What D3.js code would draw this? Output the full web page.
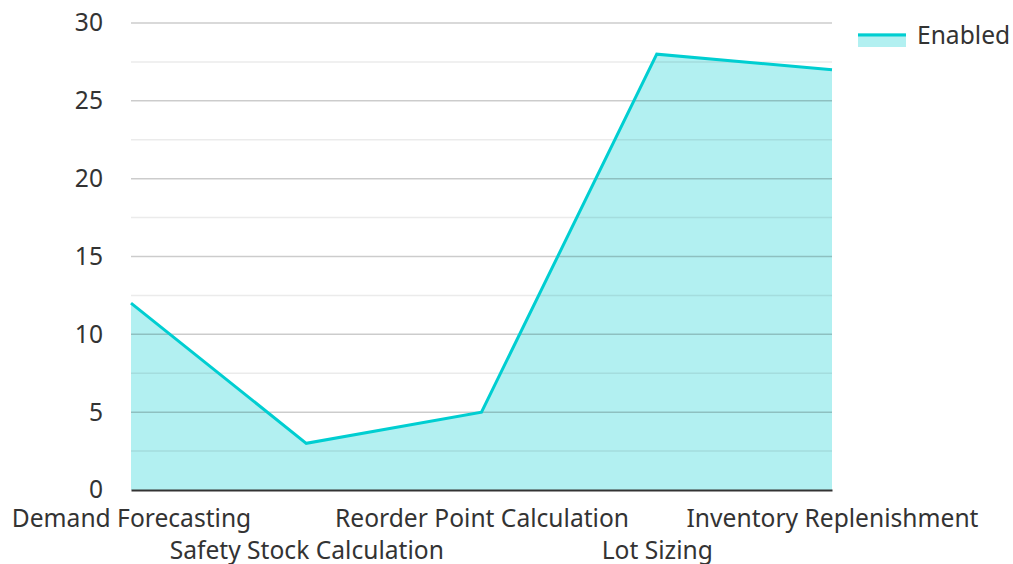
<!DOCTYPE html>
<html>
<head>
<meta charset="utf-8">
<script src="https://cdn.jsdelivr.net/npm/d3@7"></script>
<style>
  body { margin: 0; background: #fff; }
  text { font-family: "Noto Sans", sans-serif; fill: #333; }
</style>
</head>
<body>
<div id="chart"></div>
<script>
(function () {

  // data
  var categories = ["Demand Forecasting", "Safety Stock Calculation", "Reorder Point Calculation", "Lot Sizing", "Inventory Replenishment"]
  var enabled = [12, 3, 5, 28, 27]
  var yTicks = [0, 5, 10, 15, 20, 25, 30]
  var minorTicks = [2.5, 7.5, 12.5, 17.5, 22.5, 27.5]
  var seriesName = "Enabled"

  var color = "#00CED1"
  var fontSize = "24.6px"

  var margin = { top: 23, right: 181, bottom: 74, left: 131 }
  var width = 1013 - margin.left - margin.right,
    height = 564 - margin.top - margin.bottom

  var svg = d3.select("#chart").append("svg")
    .attr("width", 1013)
    .attr("height", 564)

  var g = svg.append("g")
    .attr("transform", "translate(" + margin.left + "," + margin.top + ")")

  var xPositionScale = d3.scalePoint().domain(categories).range([0, width])
  var yPositionScale = d3.scaleLinear().domain([0, 30]).range([height, 0])

  var points = categories.map(function (c, i) { return { cat: c, value: enabled[i] } })

  // area
  var area = d3.area()
    .x(function (d) { return xPositionScale(d.cat) })
    .y0(height)
    .y1(function (d) { return yPositionScale(d.value) })

  g.append("path")
    .datum(points)
    .attr("d", area)
    .attr("fill", color)
    .attr("fill-opacity", 0.3)

  // grid on top of the fill
  g.selectAll(".minor")
    .data(minorTicks)
    .enter().append("line")
    .attr("x1", 0).attr("x2", width)
    .attr("y1", function (d) { return yPositionScale(d) })
    .attr("y2", function (d) { return yPositionScale(d) })
    .attr("stroke", "#000")
    .attr("stroke-opacity", 0.08)
    .attr("stroke-width", 1.5)

  g.selectAll(".major")
    .data(yTicks.slice(1))
    .enter().append("line")
    .attr("x1", 0).attr("x2", width)
    .attr("y1", function (d) { return yPositionScale(d) })
    .attr("y2", function (d) { return yPositionScale(d) })
    .attr("stroke", "#000")
    .attr("stroke-opacity", 0.2)
    .attr("stroke-width", 1.5)

  // line
  var line = d3.line()
    .x(function (d) { return xPositionScale(d.cat) })
    .y(function (d) { return yPositionScale(d.value) })

  g.append("path")
    .datum(points)
    .attr("d", line)
    .attr("fill", "none")
    .attr("stroke", color)
    .attr("stroke-width", 3)
    .attr("stroke-linejoin", "miter")

  // y axis
  var yAxis = d3.axisLeft(yPositionScale).tickValues(yTicks).tickSize(0).tickPadding(28)
  g.append("g")
    .attr("class", "axis y-axis")
    .call(yAxis)
    .call(function (s) { s.select(".domain").remove() })
    .selectAll("text")
    .style("font-size", fontSize)
    .attr("fill", "#333")

  // x axis
  var xAxis = d3.axisBottom(xPositionScale).tickSize(0)
  var xg = g.append("g")
    .attr("class", "axis x-axis")
    .attr("transform", "translate(0," + height + ")")
    .call(xAxis)
  xg.select(".domain").attr("stroke", "#333").attr("stroke-width", 2)
  xg.selectAll("text")
    .style("font-size", fontSize)
    .attr("fill", "#333")
    .attr("dy", 0)
    .attr("y", function (d, i) { return i % 2 === 0 ? 37 : 69 })

  // legend
  var legend = svg.append("g").attr("transform", "translate(858,33)")
  legend.append("rect")
    .attr("x", 0).attr("y", 0).attr("width", 48).attr("height", 14)
    .attr("fill", color).attr("fill-opacity", 0.3)
  legend.append("line")
    .attr("x1", 0).attr("x2", 48).attr("y1", 2).attr("y2", 2)
    .attr("stroke", color).attr("stroke-width", 3)
  legend.append("text")
    .attr("x", 59).attr("y", 11)
    .style("font-size", fontSize)
    .text(seriesName)

})()
</script>
</body>
</html>
